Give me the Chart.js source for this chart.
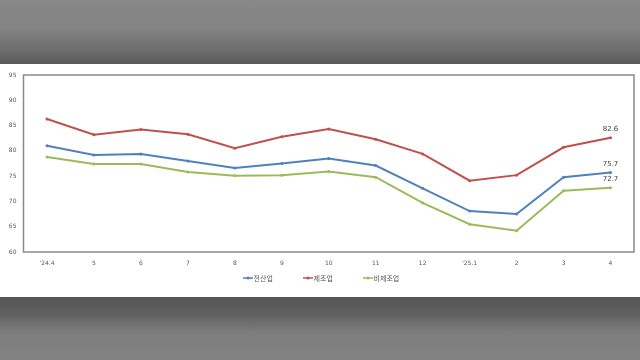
<!DOCTYPE html>
<html>
<head>
<meta charset="utf-8">
<script src="https://cdn.jsdelivr.net/npm/chart.js@4.4.1/dist/chart.umd.min.js"></script>
<style>
html,body{margin:0;padding:0;width:640px;height:360px;overflow:hidden;background:#808080;}
#top{position:absolute;left:0;top:0;width:640px;height:64px;background:linear-gradient(to bottom,#878787 0%,#838383 45%,#6c6c6c 80%,#595959 100%);}
#panel{position:absolute;left:0;top:64px;width:640px;height:233px;background:#fff;}
#bot{position:absolute;left:0;top:297px;width:640px;height:63px;background:linear-gradient(to bottom,#555555 0%,#636363 30%,#7d7d7d 55%,#828282 100%);}
</style>
</head>
<body>
<div id="top"></div>
<div id="panel"><canvas id="c" width="640" height="233"></canvas></div>
<div id="bot"></div>
<script>
const categories = ["'24.4","5","6","7","8","9","10","11","12","'25.1","2","3","4"];
const allIndustry = [81.0,79.2,79.4,78.0,76.6,77.5,78.5,77.1,72.6,68.1,67.5,74.8,75.7];
const manufacturing = [86.3,83.2,84.2,83.3,80.5,82.8,84.3,82.3,79.4,74.1,75.2,80.7,82.6];
const nonManufacturing = [78.8,77.4,77.4,75.8,75.1,75.2,75.9,74.8,69.7,65.5,64.2,72.1,72.7];
const seriesNames = ["전산업","제조업","비제조업"];
const yTicks = [60,65,70,75,80,85,90,95];

const font = "'Liberation Sans Narrow','DejaVu Sans','Noto Sans CJK KR',sans-serif";
const colors = ['#4f81bd','#c0504d','#9bbb59'];

const frame = {
  id:'frame',
  afterDatasetsDraw(chart){
    const {ctx, chartArea:a} = chart;
    ctx.save();
    ctx.strokeStyle='#8a8a8a';
    ctx.lineWidth=1.5;
    ctx.strokeRect(a.left,a.top,a.right-a.left,a.bottom-a.top);
    // last-point labels
    ctx.fillStyle='#404040';
    ctx.font="7px "+font;
    ctx.textAlign='center';
    ctx.textBaseline='bottom';
    chart.data.datasets.forEach((ds,i)=>{
      const meta=chart.getDatasetMeta(i);
      const p=meta.data[meta.data.length-1];
      ctx.fillText(ds.data[ds.data.length-1].toFixed(1),p.x,p.y-5);
    });
    // legend
    const y = a.bottom + 26;
    const starts = [243,303,363];
    ctx.font="7px 'Noto Sans CJK KR',sans-serif";
    ctx.textAlign='left';
    ctx.textBaseline='middle';
    chart.data.datasets.forEach((ds,i)=>{
      const x=starts[i];
      ctx.strokeStyle=ds.borderColor;
      ctx.lineWidth=1.5;
      ctx.beginPath();ctx.moveTo(x,y);ctx.lineTo(x+10,y);ctx.stroke();
      ctx.fillStyle=ds.borderColor;
      ctx.beginPath();ctx.arc(x+5,y,1.5,0,Math.PI*2);ctx.fill();
      ctx.fillStyle='#595959';
      ctx.fillText(ds.label,x+10.5,y);
    });
    ctx.restore();
  }
};

new Chart(document.getElementById('c'),{
  type:'line',
  data:{
    labels:categories,
    datasets:[
      {label:seriesNames[0],data:allIndustry,borderColor:colors[0],backgroundColor:colors[0]},
      {label:seriesNames[1],data:manufacturing,borderColor:colors[1],backgroundColor:colors[1]},
      {label:seriesNames[2],data:nonManufacturing,borderColor:colors[2],backgroundColor:colors[2]}
    ]
  },
  options:{
    responsive:false,
    animation:false,
    layout:{padding:{top:11,right:6,left:0,bottom:27}},
    elements:{
      line:{borderWidth:2,tension:0},
      point:{radius:1.5,borderWidth:0,pointStyle:'circle'}
    },
    scales:{
      x:{
        offset:true,
        grid:{display:false,drawTicks:false},
        border:{display:false},
        ticks:{color:'#595959',font:{size:6,family:font},padding:8,maxRotation:0,autoSkip:false},
        afterFit(s){s.height=18;}
      },
      y:{
        min:60,max:95,
        grid:{display:false,drawTicks:false},
        border:{display:false},
        afterBuildTicks(s){s.ticks=yTicks.map(v=>({value:v}));},
        ticks:{color:'#595959',font:{size:6,family:font},padding:7},
        afterFit(s){s.width=23.5;}
      }
    },
    plugins:{
      legend:{display:false},
      tooltip:{enabled:false}
    }
  },
  plugins:[frame]
});
</script>
</body>
</html>
